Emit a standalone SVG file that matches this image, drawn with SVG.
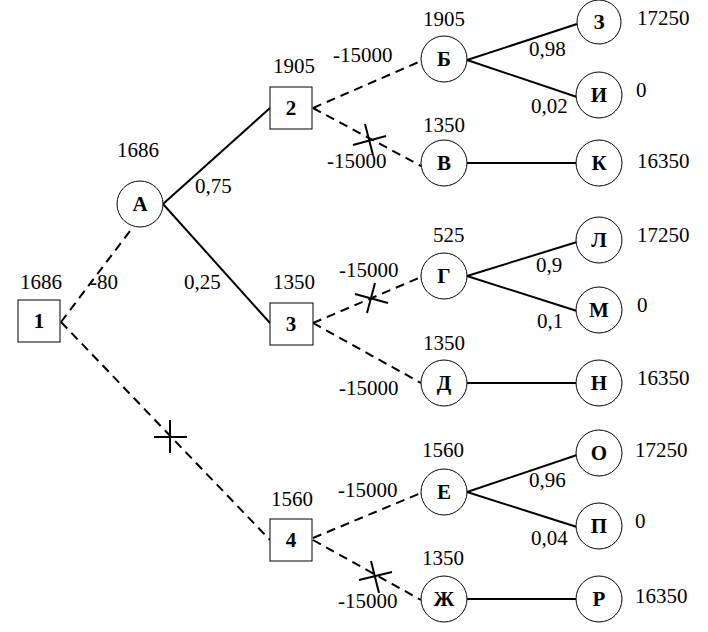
<svg xmlns="http://www.w3.org/2000/svg" width="708" height="632" viewBox="0 0 708 632">
<style>
.bg{fill:#fff}
.box,.circ{fill:#fff;stroke:#000;stroke-width:1}
.nl{font-family:"Liberation Serif","Times New Roman",serif;font-size:21px;font-weight:bold;text-anchor:middle;fill:#000}
.t{font-family:"Liberation Serif","Times New Roman",serif;font-size:21px;fill:#000}
.s{stroke:#000;stroke-width:2;fill:none}
.d{stroke:#000;stroke-width:2;fill:none;stroke-dasharray:9 6}
.x{stroke:#000;stroke-width:2;fill:none}
</style>
<rect class="bg" x="0" y="0" width="708" height="632"/>
<g id="connectors">
<line class="d" x1="61" y1="322" x2="133" y2="227"/>
<line class="d" x1="61" y1="322" x2="270" y2="540"/>
<line class="s" x1="163" y1="204" x2="270" y2="108"/>
<line class="s" x1="163" y1="204" x2="270" y2="323"/>
<line class="d" x1="313" y1="108" x2="421" y2="61"/>
<line class="d" x1="313" y1="108" x2="421" y2="166"/>
<line class="d" x1="313" y1="323" x2="421" y2="277"/>
<line class="d" x1="313" y1="323" x2="421" y2="383"/>
<line class="d" x1="313" y1="538" x2="421" y2="493"/>
<line class="d" x1="313" y1="540" x2="421" y2="600"/>
<line class="s" x1="467" y1="60" x2="577" y2="24"/>
<line class="s" x1="467" y1="60" x2="577" y2="97"/>
<line class="s" x1="467" y1="163" x2="577" y2="163"/>
<line class="s" x1="467" y1="276" x2="577" y2="242"/>
<line class="s" x1="467" y1="276" x2="577" y2="311"/>
<line class="s" x1="467" y1="383" x2="577" y2="383"/>
<line class="s" x1="467" y1="492" x2="577" y2="455"/>
<line class="s" x1="467" y1="492" x2="577" y2="527"/>
<line class="s" x1="467" y1="599" x2="577" y2="599"/>
<path class="x" stroke-width="2.5" d="M154 437H187M170 420V453"/>
<path class="x" stroke-width="1.5" d="M353 145L386 136M365 124L373 155"/>
<path class="x" d="M355 294L388 303M375 283L367 313"/>
<path class="x" stroke-width="2.5" d="M359 580L392 572M371 561L379 593"/>
</g>
<g id="n1"><rect class="box" x="18" y="300" width="42" height="42"/><text class="nl" x="39" y="328">1</text><text class="t" x="20" y="289">1686</text><text class="t" x="90" y="289">-80</text></g>
<g id="nA"><circle class="circ" cx="140" cy="204" r="23"/><text class="nl" x="140" y="211">А</text><text class="t" x="117" y="157">1686</text><text class="t" x="195" y="193">0,75</text><text class="t" x="184" y="289">0,25</text></g>
<g id="n2"><rect class="box" x="270" y="87" width="42" height="42"/><text class="nl" x="291" y="115">2</text><text class="t" x="273" y="73">1905</text></g>
<g id="n3"><rect class="box" x="270" y="303" width="43" height="42"/><text class="nl" x="291" y="331">3</text><text class="t" x="273" y="289">1350</text></g>
<g id="n4"><rect class="box" x="270" y="519" width="42" height="42"/><text class="nl" x="291" y="547">4</text><text class="t" x="271" y="506">1560</text></g>
<g id="nB"><circle class="circ" cx="444" cy="59" r="23"/><text class="nl" x="444" y="66">Б</text><text class="t" x="423" y="26">1905</text><text class="t" x="333" y="62">-15000</text></g>
<g id="nV"><circle class="circ" cx="444" cy="163" r="23"/><text class="nl" x="444" y="170">В</text><text class="t" x="423" y="132">1350</text><text class="t" x="327" y="168">-15000</text></g>
<g id="nG"><circle class="circ" cx="444" cy="276" r="23"/><text class="nl" x="444" y="283">Г</text><text class="t" x="433" y="242">525</text><text class="t" x="339" y="277">-15000</text></g>
<g id="nD"><circle class="circ" cx="444" cy="383" r="23"/><text class="nl" x="444" y="390">Д</text><text class="t" x="423" y="350">1350</text><text class="t" x="339" y="395">-15000</text></g>
<g id="nE"><circle class="circ" cx="444" cy="492" r="23"/><text class="nl" x="444" y="499">Е</text><text class="t" x="422" y="457">1560</text><text class="t" x="338" y="497">-15000</text></g>
<g id="nZh"><circle class="circ" cx="444" cy="599" r="23"/><text class="nl" x="444" y="606">Ж</text><text class="t" x="422" y="565">1350</text><text class="t" x="338" y="608">-15000</text></g>
<g id="nZ"><circle class="circ" cx="599" cy="22" r="22"/><text class="nl" x="599" y="29">З</text><text class="t" x="637" y="25">17250</text><text class="t" x="529" y="56">0,98</text></g>
<g id="nI"><circle class="circ" cx="599" cy="95" r="23"/><text class="nl" x="599" y="102">И</text><text class="t" x="636" y="97">0</text><text class="t" x="531" y="113">0,02</text></g>
<g id="nK"><circle class="circ" cx="599" cy="163" r="23"/><text class="nl" x="599" y="170">К</text><text class="t" x="637" y="168">16350</text></g>
<g id="nL"><circle class="circ" cx="599" cy="240" r="23"/><text class="nl" x="599" y="247">Л</text><text class="t" x="637" y="242">17250</text><text class="t" x="536" y="272">0,9</text></g>
<g id="nM"><circle class="circ" cx="599" cy="310" r="23"/><text class="nl" x="599" y="317">М</text><text class="t" x="637" y="312">0</text><text class="t" x="537" y="328">0,1</text></g>
<g id="nN"><circle class="circ" cx="599" cy="383" r="23"/><text class="nl" x="599" y="390">Н</text><text class="t" x="637" y="385">16350</text></g>
<g id="nO"><circle class="circ" cx="599" cy="453" r="23"/><text class="nl" x="599" y="460">О</text><text class="t" x="635" y="457">17250</text><text class="t" x="529" y="487">0,96</text></g>
<g id="nP"><circle class="circ" cx="599" cy="526" r="23"/><text class="nl" x="599" y="533">П</text><text class="t" x="635" y="528">0</text><text class="t" x="531" y="545">0,04</text></g>
<g id="nR"><circle class="circ" cx="599" cy="599" r="23"/><text class="nl" x="599" y="606">Р</text><text class="t" x="635" y="603">16350</text></g>
</svg>
